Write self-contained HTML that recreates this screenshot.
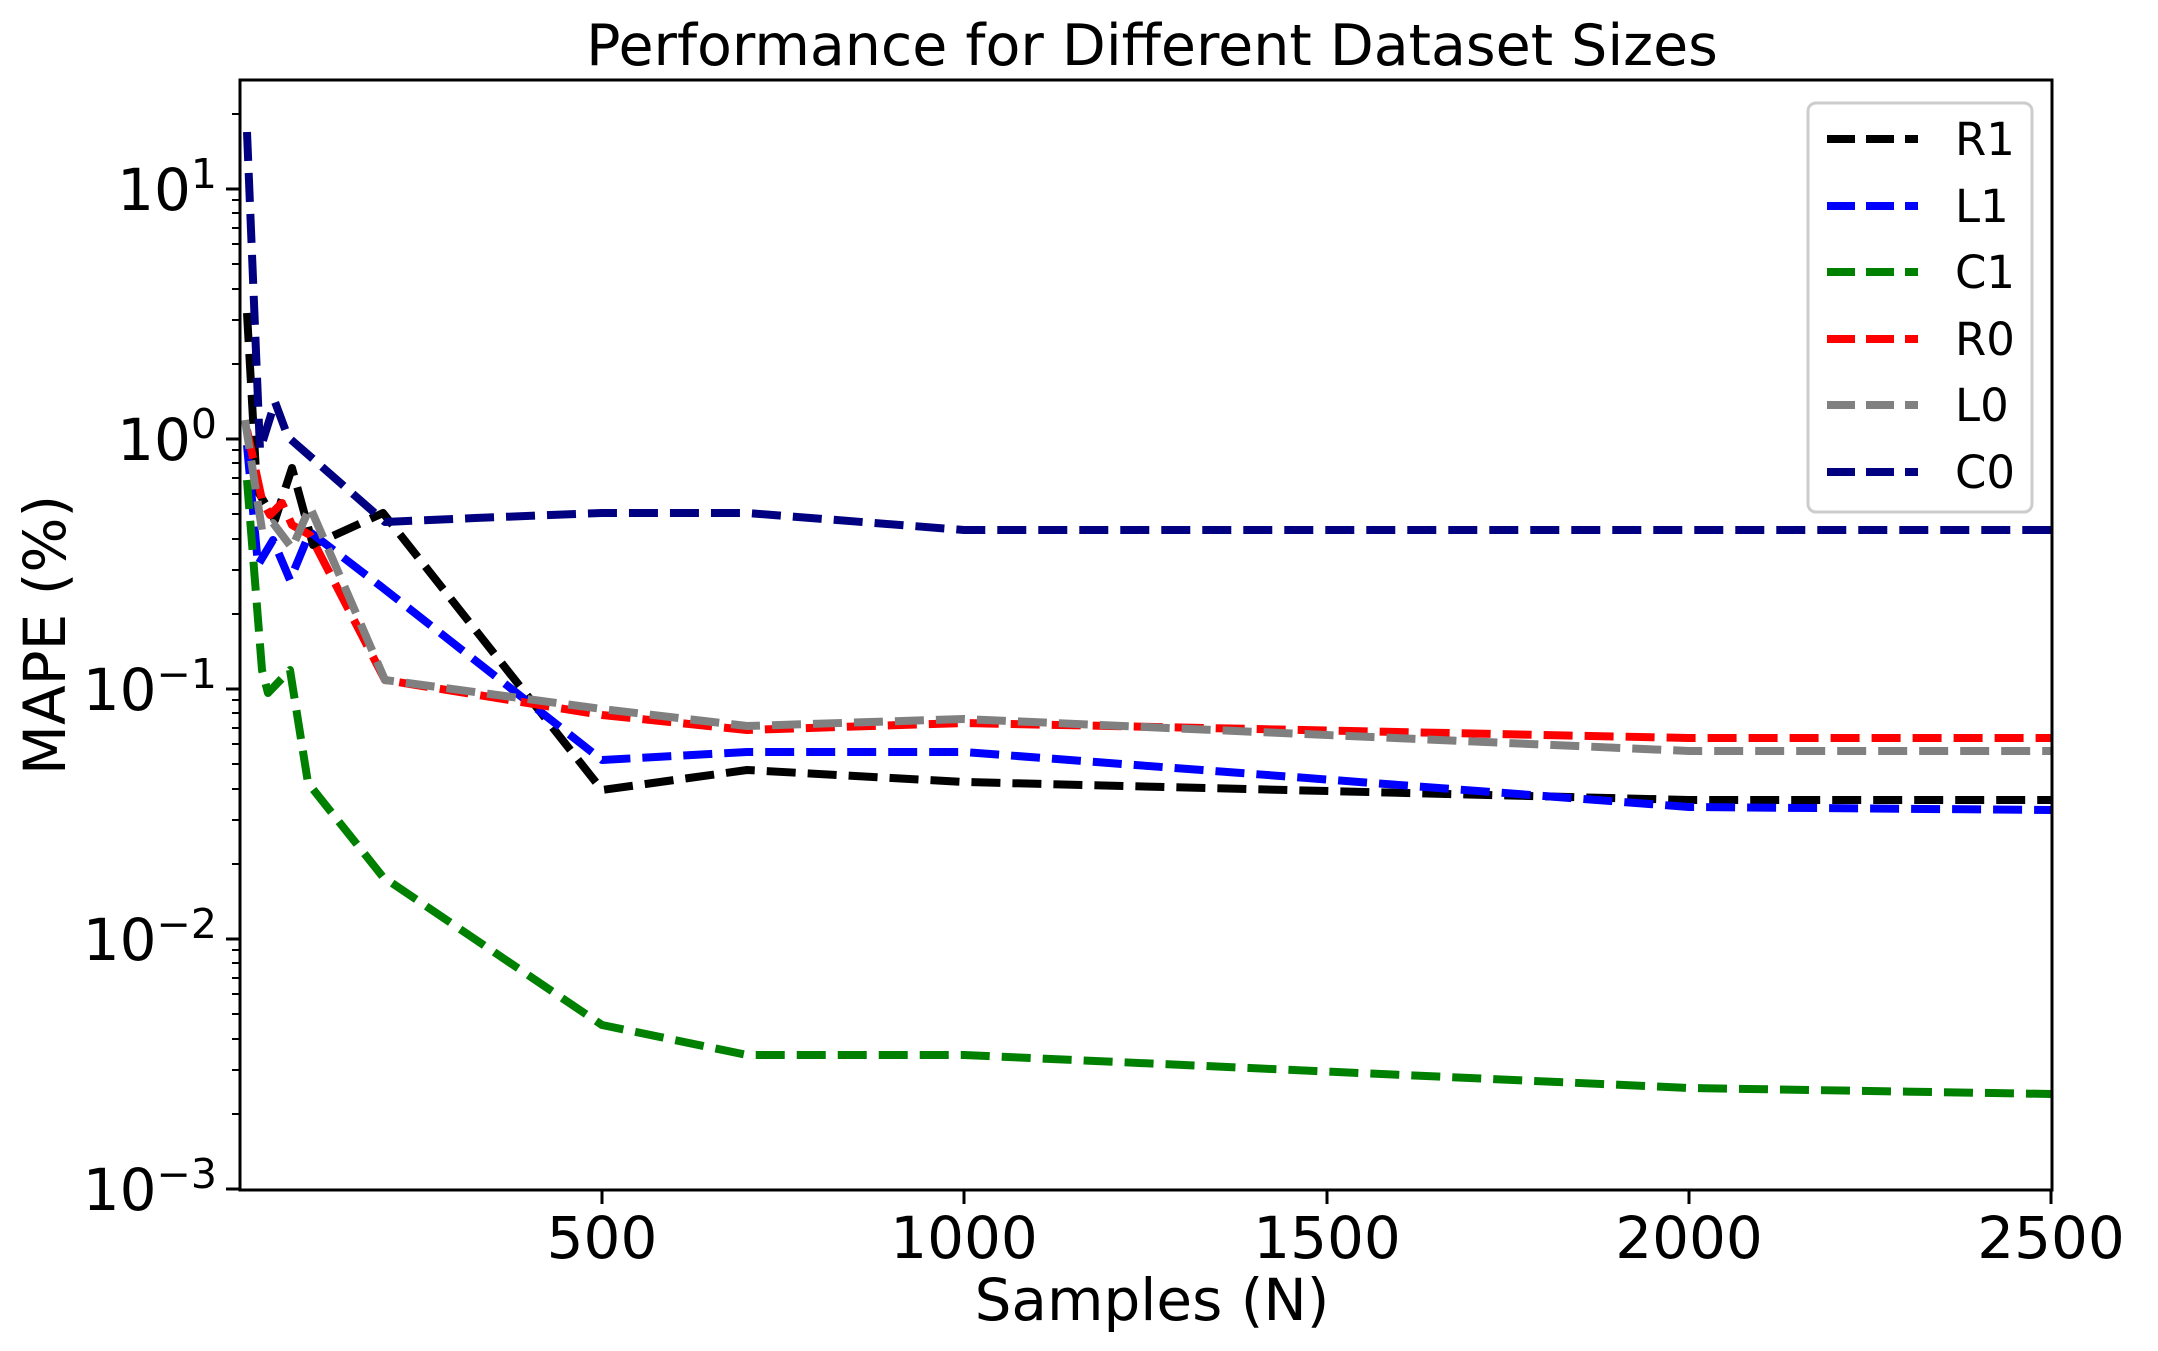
<!DOCTYPE html>
<html><head><meta charset="utf-8"><style>html,body{margin:0;padding:0;background:#fff}svg{display:block}</style></head>
<body>
<svg width="2158" height="1351" viewBox="0 0 2158 1351" xmlns="http://www.w3.org/2000/svg" font-family="'DejaVu Sans','Liberation Sans',sans-serif">
<rect width="2158" height="1351" fill="#fff"/>
<text x="1152" y="65" font-size="57" text-anchor="middle">Performance for Different Dataset Sizes</text>
<g fill="none" stroke-width="8" stroke-dasharray="29,12" stroke-linejoin="round">
<polyline stroke="#000000" points="247,313 257,490 275,520 292,468 313,545 383,513 602,790 747,770 964,782 1689,800 2051,800"/>
<polyline stroke="#0000ff" points="247,445 258,565 273,540 290,580 310,532 383,588 602,760 747,752 964,752 1689,807 2051,810"/>
<polyline stroke="#008000" points="247,480 262,670 268,693 290,670 308,783 383,877 602,1025 747,1055 964,1055 1689,1088 2051,1094"/>
<polyline stroke="#ff0000" points="247,430 262,500 270,515 282,503 292,525 310,535 385,680 602,715 747,730 964,723 1689,738 2051,738"/>
<polyline stroke="#808080" points="245,420 262,530 273,523 292,548 310,507 385,680 602,709 747,726 964,719 1689,751 2051,751"/>
<polyline stroke="#000080" points="247,132 260,450 275,402 288,437 385,522 475,518 602,513 747,513 964,530 1689,530 2051,530"/>
</g>
<rect x="240" y="80" width="1812" height="1110" fill="none" stroke="#000" stroke-width="3"/>
<g stroke="#000" stroke-width="3">
<line x1="226" y1="189" x2="240" y2="189"/><line x1="226" y1="439" x2="240" y2="439"/><line x1="226" y1="689" x2="240" y2="689"/><line x1="226" y1="939" x2="240" y2="939"/><line x1="226" y1="1189" x2="240" y2="1189"/>
<g stroke-width="2">
<line x1="232" y1="114" x2="240" y2="114"/>
<line x1="232" y1="364" x2="240" y2="364"/><line x1="232" y1="320" x2="240" y2="320"/><line x1="232" y1="289" x2="240" y2="289"/><line x1="232" y1="264" x2="240" y2="264"/><line x1="232" y1="244" x2="240" y2="244"/><line x1="232" y1="228" x2="240" y2="228"/><line x1="232" y1="213" x2="240" y2="213"/><line x1="232" y1="200" x2="240" y2="200"/>
<line x1="232" y1="614" x2="240" y2="614"/><line x1="232" y1="570" x2="240" y2="570"/><line x1="232" y1="539" x2="240" y2="539"/><line x1="232" y1="514" x2="240" y2="514"/><line x1="232" y1="494" x2="240" y2="494"/><line x1="232" y1="478" x2="240" y2="478"/><line x1="232" y1="463" x2="240" y2="463"/><line x1="232" y1="450" x2="240" y2="450"/>
<line x1="232" y1="864" x2="240" y2="864"/><line x1="232" y1="820" x2="240" y2="820"/><line x1="232" y1="789" x2="240" y2="789"/><line x1="232" y1="764" x2="240" y2="764"/><line x1="232" y1="744" x2="240" y2="744"/><line x1="232" y1="728" x2="240" y2="728"/><line x1="232" y1="713" x2="240" y2="713"/><line x1="232" y1="700" x2="240" y2="700"/>
<line x1="232" y1="1114" x2="240" y2="1114"/><line x1="232" y1="1070" x2="240" y2="1070"/><line x1="232" y1="1039" x2="240" y2="1039"/><line x1="232" y1="1014" x2="240" y2="1014"/><line x1="232" y1="994" x2="240" y2="994"/><line x1="232" y1="978" x2="240" y2="978"/><line x1="232" y1="963" x2="240" y2="963"/><line x1="232" y1="950" x2="240" y2="950"/>
</g>
<line x1="602" y1="1190" x2="602" y2="1204"/><line x1="964" y1="1190" x2="964" y2="1204"/><line x1="1327" y1="1190" x2="1327" y2="1204"/><line x1="1689" y1="1190" x2="1689" y2="1204"/><line x1="2051" y1="1190" x2="2051" y2="1204"/>
</g>
<g font-size="58" text-anchor="end">
<text x="217" y="210">10<tspan dy="-22" font-size="41">1</tspan></text>
<text x="217" y="460">10<tspan dy="-22" font-size="41">0</tspan></text>
<text x="217" y="710">10<tspan dy="-22" font-size="41">−1</tspan></text>
<text x="217" y="960">10<tspan dy="-22" font-size="41">−2</tspan></text>
<text x="217" y="1210">10<tspan dy="-22" font-size="41">−3</tspan></text>
</g>
<g font-size="58" text-anchor="middle">
<text x="602" y="1258">500</text><text x="964" y="1258">1000</text><text x="1327" y="1258">1500</text><text x="1689" y="1258">2000</text><text x="2051" y="1258">2500</text>
<text x="1152" y="1320">Samples (N)</text>
<text transform="translate(65,635) rotate(-90)">MAPE (%)</text>
</g>
<rect x="1808" y="103" width="224" height="409" rx="8" fill="#fff" fill-opacity="0.8" stroke="#cccccc" stroke-width="3"/>
<g stroke-width="8" stroke-dasharray="28,11">
<line x1="1827" y1="139" x2="1918" y2="139" stroke="#000"/>
<line x1="1827" y1="206" x2="1918" y2="206" stroke="#0000ff"/>
<line x1="1827" y1="272" x2="1918" y2="272" stroke="#008000"/>
<line x1="1827" y1="339" x2="1918" y2="339" stroke="#ff0000"/>
<line x1="1827" y1="405" x2="1918" y2="405" stroke="#808080"/>
<line x1="1827" y1="472" x2="1918" y2="472" stroke="#000080"/>
</g>
<g font-size="45">
<text x="1955" y="155">R1</text><text x="1955" y="222">L1</text><text x="1955" y="288">C1</text><text x="1955" y="355">R0</text><text x="1955" y="421">L0</text><text x="1955" y="488">C0</text>
</g>
</svg>
</body></html>
